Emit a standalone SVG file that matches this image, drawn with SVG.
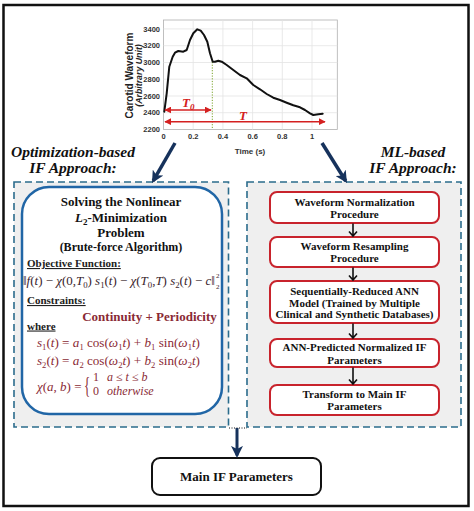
<svg xmlns="http://www.w3.org/2000/svg" width="474" height="511" viewBox="0 0 474 511">
<style>
  .serif{font-family:"Liberation Serif","Times New Roman",serif}
  .sans{font-family:"Liberation Sans",Arial,sans-serif}
  .tick{font-family:"Liberation Sans",Arial,sans-serif;font-size:7.5px;font-weight:bold;fill:#333}
  .grid{stroke:#e3e3e3;stroke-width:0.8}
  .head{font-family:"Liberation Serif","Times New Roman",serif;font-size:15.5px;font-weight:bold;font-style:italic;fill:#111;text-anchor:middle}
  .panel{fill:#efefef;stroke:#2b6c8c;stroke-width:1.6;stroke-dasharray:7 4}
  .rbox{fill:#fff;stroke:#c8232c;stroke-width:2}
  .bt{font-family:"Liberation Serif","Times New Roman",serif;font-size:11px;font-weight:bold;fill:#111;text-anchor:middle}
  .lbl{font-family:"Liberation Serif","Times New Roman",serif;font-size:11px;font-weight:bold;fill:#222;text-decoration:underline}
  .m{font-family:"Liberation Serif","Times New Roman",serif;fill:#8a2a35}
  .f{font-family:"Liberation Serif","Times New Roman",serif;fill:#3a1e2c}
  .i{font-style:italic}
  .sub{font-size:8.5px}
</style>
<defs>
  <marker id="navy" viewBox="0 0 10 10" refX="8" refY="5" markerWidth="12" markerHeight="12" markerUnits="userSpaceOnUse" orient="auto">
    <path d="M0,0 L10,5 L0,10 L2.5,5z" fill="#16325c"/>
  </marker>
  <marker id="red" viewBox="0 0 10 10" refX="9" refY="5" markerWidth="7" markerHeight="7" markerUnits="userSpaceOnUse" orient="auto-start-reverse">
    <path d="M0,0 L10,5 L0,10z" fill="#d42020"/>
  </marker>
</defs>
<rect x="0" y="0" width="474" height="511" fill="#fff"/>
<rect x="3.5" y="5" width="465" height="501" fill="none" stroke="#111" stroke-width="2.5"/>

<g id="chart">
  <rect x="163.5" y="20" width="173.8" height="109.5" fill="#fff" stroke="#b0b0b0" stroke-width="0.8"/>
  <g class="grid">
    <line x1="193.2" y1="20" x2="193.2" y2="129.5"/>
    <line x1="222.9" y1="20" x2="222.9" y2="129.5"/>
    <line x1="252.6" y1="20" x2="252.6" y2="129.5"/>
    <line x1="282.3" y1="20" x2="282.3" y2="129.5"/>
    <line x1="312" y1="20" x2="312" y2="129.5"/>
    <line x1="163.5" y1="112.7" x2="337.3" y2="112.7"/>
    <line x1="163.5" y1="96" x2="337.3" y2="96"/>
    <line x1="163.5" y1="79.2" x2="337.3" y2="79.2"/>
    <line x1="163.5" y1="62.5" x2="337.3" y2="62.5"/>
    <line x1="163.5" y1="45.7" x2="337.3" y2="45.7"/>
    <line x1="163.5" y1="28.9" x2="337.3" y2="28.9"/>
  </g>
  <g class="tick" text-anchor="middle">
    <text x="163.5" y="139">0</text>
    <text x="193.2" y="139">0.2</text>
    <text x="222.9" y="139">0.4</text>
    <text x="252.6" y="139">0.6</text>
    <text x="282.3" y="139">0.8</text>
    <text x="312" y="139">1</text>
  </g>
  <g class="tick" text-anchor="end">
    <text x="160" y="31.6">3400</text>
    <text x="160" y="48.4">3200</text>
    <text x="160" y="65.2">3000</text>
    <text x="160" y="81.9">2800</text>
    <text x="160" y="98.7">2600</text>
    <text x="160" y="115.4">2400</text>
    <text x="160" y="132.2">2200</text>
  </g>
  <text x="250" y="154" class="sans" font-size="8px" font-weight="bold" fill="#333" text-anchor="middle">Time (s)</text>
  <text transform="translate(133,75.5) rotate(-90)" class="sans" font-size="10px" font-weight="bold" fill="#222" text-anchor="middle">Carotid Waveform</text>
  <text transform="translate(141.5,75.5) rotate(-90)" class="sans" font-size="8.8px" font-weight="bold" font-style="italic" fill="#222" text-anchor="middle">(Arbitrary Unit)</text>
  <line x1="212.3" y1="62" x2="212.3" y2="129" stroke="#7aa32a" stroke-width="1" stroke-dasharray="1.2 1.5"/>
  <polyline fill="none" stroke="#111" stroke-width="2" stroke-linejoin="round" stroke-linecap="round" points="164.3,111.7 166.7,93.3 169.3,66.7 172.7,56.7 175,52.7 178.3,51 183.3,51.7 186.7,50 190,40 193.3,33.3 197.3,29.3 200.7,30.7 204,35 207.3,41.7 210,53.3 212.7,61.7 215,61.7 218.3,60.7 221.7,61.7 226.7,65 233.3,70 240,75 246.7,78.3 253.3,85 260,89.3 266.7,94 273.3,97.7 280,100 286.7,102.7 293.3,105.3 300,107.3 305,110 310,113.3 313.3,115 318.3,114.3 322.7,113.7"/>
  <line x1="165" y1="110" x2="211" y2="110" stroke="#d42020" stroke-width="1.5" marker-start="url(#red)" marker-end="url(#red)"/>
  <line x1="165" y1="121.7" x2="325" y2="121.7" stroke="#d42020" stroke-width="1.5" marker-start="url(#red)" marker-end="url(#red)"/>
  <text x="182" y="107" class="serif" font-size="13px" font-weight="bold" font-style="italic" fill="#d42020">T<tspan dy="2.5" font-size="9px">0</tspan></text>
  <text x="239" y="119.5" class="serif" font-size="13px" font-weight="bold" font-style="italic" fill="#d42020">T</text>
</g>

<g id="label-opt">
  <text x="73" y="157" class="head">Optimization-based</text>
  <text x="73" y="173" class="head">IF Approach:</text>
</g>
<g id="label-ml">
  <text x="413" y="157" class="head">ML-based</text>
  <text x="413" y="173" class="head">IF Approach:</text>
</g>

<g id="panel-left">
  <rect class="panel" x="14" y="182" width="214.5" height="245"/>
  <rect x="22" y="187" width="200" height="227" rx="27" fill="#fff" stroke="#2166a6" stroke-width="2.5"/>
  <g class="serif" font-weight="bold" fill="#111" text-anchor="middle">
    <text x="121" y="206" font-size="13px">Solving the Nonlinear</text>
    <text x="121" y="222" font-size="13px"><tspan font-style="italic">L</tspan><tspan dy="3" font-size="9px">2</tspan><tspan dy="-3">-Minimization</tspan></text>
    <text x="121" y="237" font-size="13px">Problem</text>
    <text x="121" y="251" font-size="12px">(Brute-force Algorithm)</text>
  </g>
  <text x="27" y="267" class="lbl">Objective Function:</text>
  <text x="23" y="285" class="f" font-size="12.5px" textLength="192" lengthAdjust="spacingAndGlyphs">‖<tspan class="i">f</tspan>(<tspan class="i">t</tspan>) − <tspan class="i">χ</tspan>(0,<tspan class="i">T</tspan><tspan class="sub" dy="3">0</tspan><tspan dy="-3">) </tspan><tspan class="i">s</tspan><tspan class="sub" dy="3">1</tspan><tspan dy="-3">(</tspan><tspan class="i">t</tspan>) − <tspan class="i">χ</tspan>(<tspan class="i">T</tspan><tspan class="sub" dy="3">0</tspan><tspan dy="-3">,</tspan><tspan class="i">T</tspan>) <tspan class="i">s</tspan><tspan class="sub" dy="3">2</tspan><tspan dy="-3">(</tspan><tspan class="i">t</tspan>) − <tspan class="i">c</tspan>‖</text>
  <text x="216" y="278" class="f" font-size="7px">2</text>
  <text x="216" y="288.5" class="f" font-size="7px">2</text>
  <text x="27" y="304" class="lbl">Constraints:</text>
  <text x="149.5" y="321" class="m" font-size="13px" font-weight="bold" text-anchor="middle">Continuity + Periodicity</text>
  <text x="27" y="329.5" class="lbl">where</text>
  <text x="37" y="347" class="m" font-size="13px" textLength="163" lengthAdjust="spacingAndGlyphs"><tspan class="i">s</tspan><tspan class="sub" dy="3">1</tspan><tspan dy="-3">(</tspan><tspan class="i">t</tspan>) = <tspan class="i">a</tspan><tspan class="sub" dy="3">1</tspan><tspan dy="-3"> cos(</tspan><tspan class="i">ω</tspan><tspan class="sub" dy="3">1</tspan><tspan dy="-3" class="i">t</tspan>) + <tspan class="i">b</tspan><tspan class="sub" dy="3">1</tspan><tspan dy="-3"> sin(</tspan><tspan class="i">ω</tspan><tspan class="sub" dy="3">1</tspan><tspan dy="-3" class="i">t</tspan>)</text>
  <text x="37" y="365" class="m" font-size="13px" textLength="163" lengthAdjust="spacingAndGlyphs"><tspan class="i">s</tspan><tspan class="sub" dy="3">2</tspan><tspan dy="-3">(</tspan><tspan class="i">t</tspan>) = <tspan class="i">a</tspan><tspan class="sub" dy="3">2</tspan><tspan dy="-3"> cos(</tspan><tspan class="i">ω</tspan><tspan class="sub" dy="3">2</tspan><tspan dy="-3" class="i">t</tspan>) + <tspan class="i">b</tspan><tspan class="sub" dy="3">2</tspan><tspan dy="-3"> sin(</tspan><tspan class="i">ω</tspan><tspan class="sub" dy="3">2</tspan><tspan dy="-3" class="i">t</tspan>)</text>
  <text x="37" y="391" class="m" font-size="13px"><tspan class="i">χ</tspan>(<tspan class="i">a</tspan>, <tspan class="i">b</tspan>) =</text>
  <text transform="translate(84,392.5) scale(1,1.8)" class="m" font-size="13px">{</text>
  <text x="93" y="381" class="m" font-size="12px">1</text>
  <text x="93" y="395" class="m" font-size="12px">0</text>
  <text x="107" y="381" class="m i" font-size="12px">a ≤ t ≤ b</text>
  <text x="107" y="395" class="m i" font-size="12px">otherwise</text>
</g>

<g id="panel-right">
  <rect class="panel" x="247" y="182" width="214" height="245"/>
</g>

<g id="box-norm">
  <rect class="rbox" x="270" y="192" width="169" height="31" rx="7"/>
  <text class="bt" x="354.5" y="206">Waveform Normalization</text>
  <text class="bt" x="354.5" y="218">Procedure</text>
</g>
<g id="box-resample">
  <rect class="rbox" x="270" y="237" width="169" height="30" rx="7"/>
  <text class="bt" x="354.5" y="250">Waveform Resampling</text>
  <text class="bt" x="354.5" y="262">Procedure</text>
</g>
<g id="box-ann">
  <rect class="rbox" x="270" y="281" width="169" height="42" rx="7"/>
  <text class="bt" x="354.5" y="295">Sequentially-Reduced ANN</text>
  <text class="bt" x="354.5" y="306.5">Model (Trained by Multiple</text>
  <text class="bt" x="354.5" y="318">Clinical and Synthetic Databases)</text>
</g>
<g id="box-pred">
  <rect class="rbox" x="270" y="339" width="169" height="28" rx="7"/>
  <text class="bt" x="354.5" y="351">ANN-Predicted Normalized IF</text>
  <text class="bt" x="354.5" y="363.5">Parameters</text>
</g>
<g id="box-transform">
  <rect class="rbox" x="270" y="385" width="169" height="30" rx="7"/>
  <text class="bt" x="354.5" y="398">Transform to Main IF</text>
  <text class="bt" x="354.5" y="410">Parameters</text>
</g>
<g id="box-main">
  <rect x="152" y="458" width="169" height="37" rx="8" fill="#fff" stroke="#111" stroke-width="2"/>
  <text x="236.5" y="481" class="serif" font-size="13px" font-weight="bold" fill="#111" text-anchor="middle">Main IF Parameters</text>
</g>

<g id="connectors">
  <line x1="175" y1="143" x2="153.2" y2="180.9" stroke="#16325c" stroke-width="3.5" marker-end="url(#navy)"/>
  <line x1="322" y1="143" x2="345.7" y2="181" stroke="#16325c" stroke-width="3.5" marker-end="url(#navy)"/>
  <line x1="229" y1="428" x2="247" y2="428" stroke="#111" stroke-width="1" stroke-dasharray="1 1.5"/>
  <line x1="237" y1="428" x2="237" y2="455.5" stroke="#16325c" stroke-width="3" marker-end="url(#navy)"/>
  <g fill="none" stroke="#111" stroke-width="1.6">
    <path d="M353,223.5 V236 M349,231.5 L353,236 L357,231.5"/>
    <path d="M353,267.5 V280 M349,275.5 L353,280 L357,275.5"/>
    <path d="M353,323.5 V338 M349,333.5 L353,338 L357,333.5"/>
    <path d="M353,367.5 V384 M349,379.5 L353,384 L357,379.5"/>
  </g>
</g>
</svg>
